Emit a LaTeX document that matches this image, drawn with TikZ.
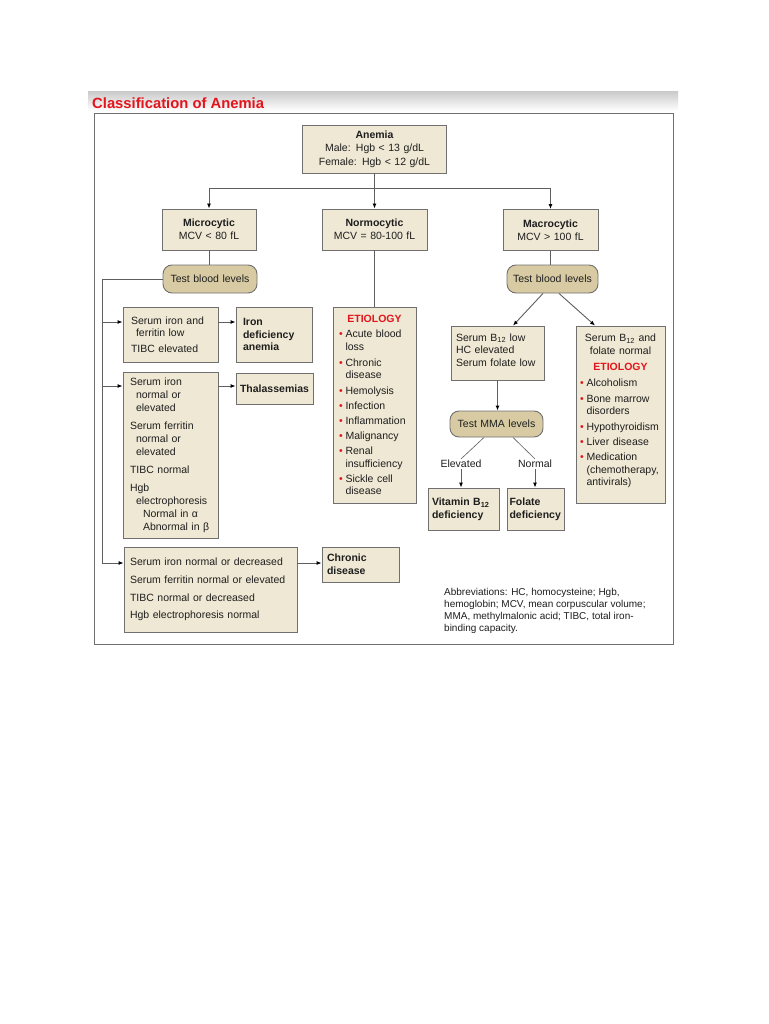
\documentclass[tikz,border=0pt]{standalone}
\usepackage{fontspec}
\setmainfont{Liberation Sans}
\usetikzlibrary{arrows.meta,calc}
\definecolor{bfill}{HTML}{EFE8D4}
\definecolor{tfill}{HTML}{D8CBA3}
\definecolor{bline}{HTML}{707070}
\definecolor{cline}{HTML}{5E5E5E}
\definecolor{etred}{HTML}{E2141C}
\definecolor{txt}{HTML}{1E1E1E}
\newcommand{\body}{\fontsize{10.5}{12.6}\selectfont}
\newcommand{\etio}{{\color{etred}\bfseries ETIOLOGY}}
\newcommand{\mybul}{\makebox[6.5pt][l]{\textcolor{etred}{\textbullet}}}
\newcommand{\myind}{\hspace*{6.5pt}}
\tikzset{
  box/.style={draw=bline, fill=bfill, line width=0.9pt, inner xsep=5pt, inner ysep=0pt, font=\body, align=left, text=txt},
  pill/.style={box, fill=tfill, rounded corners=9pt, align=center},
  conn/.style={draw=cline, line width=0.9pt},
  arr/.style={conn, -{Latex[length=5pt,width=4pt,color=black]}},
  lbl/.style={font=\body, text=txt, inner sep=1pt},
}
\begin{document}
\begin{tikzpicture}[x=1pt,y=-1pt]
\useasboundingbox[fill=white] (0,0) rectangle (768,1024);
% title bar
\shade[top color=gray!40, bottom color=white] (88,92) rectangle (678,111);
\node[anchor=west, inner sep=0pt, font=\fontsize{14.8}{16}\selectfont\bfseries, text=etred] (title) at (92,103) {Classification of Anemia};
% frame
\draw[bline, line width=1pt] (94.5,114) rectangle (673,644.5);

% top level
\node[box, align=center, text width=134pt, minimum height=48pt, font=\fontsize{10.5}{13.5}\selectfont] (anemia) at (374.5,149) {\textbf{Anemia}\\Male: Hgb < 13 g/dL\\Female: Hgb < 12 g/dL};
\node[box, align=center, text width=84pt, minimum height=41pt, font=\fontsize{10.5}{13}\selectfont] (micro) at (209,229.5) {\textbf{Microcytic}\\MCV < 80 fL};
\node[box, align=center, text width=95pt, minimum height=41pt, font=\fontsize{10.5}{13}\selectfont] (normo) at (374.5,229.5) {\textbf{Normocytic}\\MCV = 80-100 fL};
\node[box, align=center, text width=85pt, minimum height=41pt, font=\fontsize{10.5}{13}\selectfont] (macro) at (550.5,230) {\textbf{Macrocytic}\\MCV > 100 fL};

% test nodes
\node[pill, text width=84pt, minimum height=28pt] (test1) at (210,279) {Test blood levels};
\node[pill, text width=81pt, minimum height=28pt] (test2) at (552.5,279) {Test blood levels};

% microcytic branch
\node[box, inner xsep=8pt, text width=79pt, minimum height=55pt] (box1) at (170.5,334.5) {Serum iron and\\\hspace*{5pt}ferritin low\\[3pt]TIBC elevated};
\node[box, inner xsep=7pt, text width=62pt, minimum height=55pt, font=\body\bfseries] (iron) at (274,334.5) {Iron\\deficiency\\anemia};
\node[box, inner xsep=7pt, text width=81pt, minimum height=166pt, font=\fontsize{10.5}{13}\selectfont] (box2) at (170.5,455) {Serum iron\\\hspace*{6pt}normal or\\\hspace*{6pt}elevated\\[5pt]Serum ferritin\\\hspace*{6pt}normal or\\\hspace*{6pt}elevated\\[5pt]TIBC normal\\[5pt]Hgb\\\hspace*{6pt}electrophoresis\\\hspace*{13pt}Normal in α\\\hspace*{13pt}Abnormal in β};
\node[box, inner xsep=4pt, text width=69pt, minimum height=31pt, align=center, font=\body\bfseries] (thal) at (274.5,388.5) {Thalassemias};
\node[box, inner xsep=6pt, text width=161pt, minimum height=85pt] (box4) at (210.5,589.5) {Serum iron normal or decreased\\[5pt]Serum ferritin normal or elevated\\[5pt]TIBC normal or decreased\\[5pt]Hgb electrophoresis normal};
\node[box, inner xsep=5pt, text width=67pt, minimum height=35pt, font=\body\bfseries] (chronic) at (360.5,564.5) {Chronic\\disease};

% normocytic etiology
\node[box, inner xsep=6pt, text width=71pt, minimum height=196pt] (etio1) at (374.5,405) {\makebox[71pt][c]{\etio}\\[3pt]\mybul Acute blood\\\myind loss\\[3pt]\mybul Chronic\\\myind disease\\[3pt]\mybul Hemolysis\\[2.5pt]\mybul Infection\\[2.5pt]\mybul Inflammation\\[2.5pt]\mybul Malignancy\\[2.5pt]\mybul Renal\\\myind insufficiency\\[2.5pt]\mybul Sickle cell\\\myind disease};

% macrocytic branch
\node[box, inner xsep=5pt, text width=83pt, minimum height=54pt] (b12) at (497.5,353) {Serum B\textsubscript{12} low\\HC elevated\\Serum folate low\par\vspace{6pt}};
\node[box, inner xsep=4pt, text width=81pt, minimum height=177pt] (etio2) at (620.5,414.5) {\makebox[81pt][c]{Serum B\textsubscript{12} and}\\\makebox[81pt][c]{folate normal}\\[4pt]\makebox[81pt][c]{\etio}\\[3pt]\mybul Alcoholism\\[3pt]\mybul Bone marrow\\\myind disorders\\[3pt]\mybul Hypothyroidism\\[2.5pt]\mybul Liver disease\\[2.5pt]\mybul Medication\\\myind (chemotherapy,\\\myind antivirals)\par\vspace{7pt}};
\node[pill, text width=83pt, minimum height=26pt] (mma) at (496.5,424) {Test MMA levels};
\node[lbl] (elev) at (461,464) {Elevated};
\node[lbl] (norm) at (535,464) {Normal};
\node[box, inner xsep=4pt, text width=63pt, minimum height=42pt, font=\body\bfseries] (vit) at (463.5,509) {Vitamin B\textsubscript{12}\\deficiency};
\node[box, inner xsep=2.5pt, text width=52pt, minimum height=42pt, font=\body\bfseries] (fol) at (535.5,509) {Folate\\deficiency};

% abbreviations
\node[anchor=north west, inner sep=0pt, align=left, text=txt, font=\fontsize{10}{12}\selectfont] (abbr) at (444,588) {Abbreviations: HC, homocysteine; Hgb,\\hemoglobin; MCV, mean corpuscular volume;\\MMA, methylmalonic acid; TIBC, total iron-\\binding capacity.};

% connectors
\coordinate (j) at ($(anemia.south)+(0,15)$);
\draw[arr] (anemia.south) -- (normo.north);
\draw[arr] (j) -| (micro.north);
\draw[arr] (j) -| (macro.north);
\draw[conn] (micro.south) -- (micro.south |- test1.north);
\coordinate (l1) at (102,322);
\coordinate (l2) at (102,386);
\coordinate (l4) at (102,563);
\draw[conn] (test1.west) -| (l4);
\draw[arr] (l1) -- (l1 -| box1.west);
\draw[arr] (l2) -- (l2 -| box2.west);
\draw[arr] (l4) -- (l4 -| box4.west);
\draw[arr] (l1 -| box1.east) -- (l1 -| iron.west);
\draw[arr] (l2 -| box2.east) -- (l2 -| thal.west);
\draw[arr] (l4 -| box4.east) -- (l4 -| chronic.west);
\draw[conn] (normo.south) -- (etio1.north);
\draw[conn] (macro.south) -- (macro.south |- test2.north);
\draw[arr] ($(test2.south)+(-9.5,0)$) -- ($(b12.north)+(15.5,0)$);
\draw[arr] ($(test2.south)+(6.5,0)$) -- ($(etio2.north)+(-25.5,0)$);
\draw[arr] (b12.south) -- (b12.south |- mma.north);
\draw[conn, line width=0.6pt] ($(mma.south)+(-12.5,0)$) -- (elev.north);
\draw[conn, line width=0.6pt] ($(mma.south)+(16.5,0)$) -- (norm.north);
\draw[arr] (elev.south) -- (elev.south |- vit.north);
\draw[arr] (norm.south) -- (norm.south |- fol.north);
\end{tikzpicture}
\end{document}
